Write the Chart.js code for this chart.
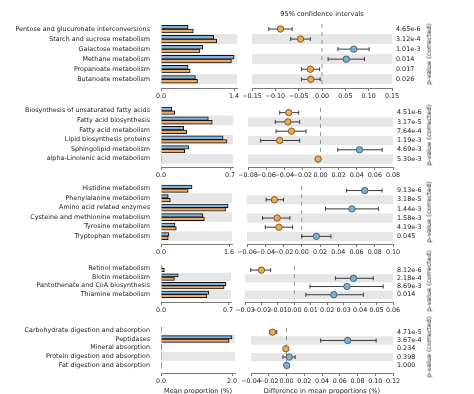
<!DOCTYPE html>
<html>
<head>
<meta charset="utf-8">
<script src="https://cdn.jsdelivr.net/npm/chart.js@4.4.1/dist/chart.umd.min.js"></script>
<style>
  html, body { margin: 0; padding: 0; background: #fff; }
  #wrap { position: relative; width: 474px; height: 394px; overflow: hidden; }
  #wrap canvas { position: absolute; }
  .pv { position: absolute; font: 6.4px "DejaVu Sans", sans-serif; color: #222; white-space: nowrap;
        transform: translate(-50%, -50%) rotate(-90deg); }
</style>
</head>
<body>
<div id="wrap"></div>
<script>
// ---- data ----
const p1Names = ["Pentose and glucuronate interconversions", "Starch and sucrose metabolism", "Galactose metabolism", "Methane metabolism", "Propanoate metabolism", "Butanoate metabolism"];
const p1Blue = [0.52, 1.01, 0.80, 1.40, 0.52, 0.66];
const p1Orange = [0.62, 1.07, 0.74, 1.35, 0.56, 0.70];
const p1Diff = [-0.089, -0.046, 0.068, 0.052, -0.025, -0.024];
const p1Lo = [-0.114, -0.067, 0.034, 0.013, -0.044, -0.044];
const p1Hi = [-0.064, -0.025, 0.101, 0.091, -0.005, -0.004];
const p1P = ["4.65e-6", "3.12e-4", "1.01e-3", "0.014", "0.017", "0.026"];
const p1BarTick = 1.4;
const p1CiTicks = [-0.15, -0.10, -0.05, 0, 0.05, 0.10, 0.15];

const p2Names = ["Biosynthesis of unsaturated fatty acids", "Fatty acid biosynthesis", "Fatty acid metabolism", "Lipid biosynthesis proteins", "Sphingolipid metabolism", "alpha-Linolenic acid metabolism"];
const p2Blue = [0.11, 0.48, 0.23, 0.63, 0.28, 0.004];
const p2Orange = [0.14, 0.52, 0.26, 0.67, 0.24, 0.005];
const p2Diff = [-0.035, -0.036, -0.032, -0.045, 0.043, -0.0026];
const p2Lo = [-0.045, -0.050, -0.049, -0.066, 0.019, -0.0045];
const p2Hi = [-0.024, -0.023, -0.016, -0.023, 0.068, -0.0007];
const p2P = ["4.51e-6", "3.17e-5", "7.64e-4", "1.19e-3", "4.69e-3", "5.30e-3"];
const p2BarTick = 0.7;
const p2CiTicks = [-0.08, -0.06, -0.04, -0.02, 0, 0.02, 0.04, 0.06, 0.08];

const p3Names = ["Histidine metabolism", "Phenylalanine metabolism", "Amino acid related enzymes", "Cysteine and methionine metabolism", "Tyrosine metabolism", "Tryptophan metabolism"];
const p3Blue = [0.73, 0.17, 1.58, 0.98, 0.33, 0.185];
const p3Orange = [0.64, 0.22, 1.53, 1.02, 0.36, 0.17];
const p3Diff = [0.069, -0.030, 0.055, -0.027, -0.025, 0.016];
const p3Lo = [0.049, -0.039, 0.026, -0.043, -0.040, 0.000];
const p3Hi = [0.088, -0.020, 0.084, -0.013, -0.010, 0.032];
const p3P = ["9.13e-6", "3.18e-5", "1.44e-3", "1.58e-3", "4.19e-3", "0.045"];
const p3BarTick = 1.6;
const p3CiTicks = [-0.06, -0.04, -0.02, 0, 0.02, 0.04, 0.06, 0.08, 0.10];

const p4Names = ["Retinol metabolism", "Biotin metabolism", "Pantothenate and CoA biosynthesis", "Thiamine metabolism"];
const p4Blue = [0.012, 0.18, 0.68, 0.50];
const p4Orange = [0.035, 0.14, 0.66, 0.48];
const p4Diff = [-0.020, 0.036, 0.032, 0.024];
const p4Lo = [-0.0265, 0.025, 0.0095, 0.007];
const p4Hi = [-0.0144, 0.048, 0.054, 0.042];
const p4P = ["8.12e-6", "2.18e-4", "8.69e-3", "0.014"];
const p4BarTick = 0.7;
const p4CiTicks = [-0.03, -0.02, -0.01, 0, 0.01, 0.02, 0.03, 0.04, 0.05, 0.06];

const p5Names = ["Carbohydrate digestion and absorption", "Peptidases", "Mineral absorption", "Protein digestion and absorption", "Fat digestion and absorption"];
const p5Blue = [0.008, 2.0, 0.004, 0.016, 0.005];
const p5Orange = [0.012, 1.92, 0.005, 0.013, 0.005];
const p5Diff = [-0.0157, 0.069, -0.0007, 0.003, 0.0002];
const p5Lo = [-0.019, 0.0385, -0.0015, -0.004, -0.0005];
const p5Hi = [-0.011, 0.101, 0.0002, 0.0097, 0.0009];
const p5P = ["4.71e-5", "3.67e-4", "0.234", "0.398", "1.000"];
const p5BarTick = 2.0;
const p5CiTicks = [-0.04, -0.02, 0, 0.02, 0.04, 0.06, 0.08, 0.10, 0.12];

// ---- look ----
const FONT = '"DejaVu Sans", sans-serif';
const FS = 6.4;
const BLUE = "#82b3dd";
const ORANGE = "#eea862";
const BLUE_DOT = "#7eaed0";
const ORANGE_DOT = "#e9aa55";
const BAND = "#e6e6e6";
const INK = "#222";

// where each panel sits (rows top, row step, spine y, bar area right, ci area left/right)
const panes = [
  { top: 24.3, step: 10, spine: 88, barRight: 237, ciL: 252, ciR: 392 },
  { top: 106.2, step: 9.65, spine: 167.5, barRight: 233, ciL: 248, ciR: 393 },
  { top: 184, step: 9.47, spine: 244, barRight: 232, ciL: 247, ciR: 393 },
  { top: 264, step: 8.67, spine: 302, barRight: 231, ciL: 245, ciR: 393 },
  { top: 325.6, step: 8.75, spine: 373, barRight: 235, ciL: 251, ciR: 393 },
];

const wrap = document.getElementById("wrap");
Chart.defaults.font.family = FONT;
Chart.defaults.font.size = FS;
Chart.defaults.color = INK;

function addCanvas(left, top, w, h) {
  const c = document.createElement("canvas");
  c.width = Math.round(w);
  c.height = Math.round(h);
  c.style.left = left + "px";
  c.style.top = top + "px";
  c.style.width = Math.round(w) + "px";
  c.style.height = Math.round(h) + "px";
  wrap.appendChild(c);
  return c;
}

function fmt(v, d) {
  const s = Math.abs(v).toFixed(d);
  return v < -1e-9 ? "\u2212" + s : s;
}

function xAxis(min, max, ticks, dec, height, title) {
  return {
    type: "linear",
    min: min,
    max: max,
    bounds: "data",
    offset: false,
    afterBuildTicks: (s) => { s.ticks = ticks.map((v) => ({ value: v })); },
    afterFit: (s) => { s.height = height; },
    ticks: { autoSkip: false, maxRotation: 0, minRotation: 0, padding: 1.5, color: INK, callback: (v) => fmt(v, dec) },
    grid: { offset: false, drawOnChartArea: false, drawTicks: true, tickLength: 3, color: "#555", lineWidth: 0.8 },
    border: { display: true, color: "#555", width: 0.8 },
    title: title ? { display: true, text: title, color: INK, font: { size: 6.6 }, padding: { top: 0, bottom: 0 } } : { display: false },
  };
}

// gray bands, zero line, error bars, p-values
function stamp(n, ci) {
  return {
    id: "stamp",
    beforeDatasetsDraw(chart) {
      const { ctx, chartArea: a } = chart;
      const y = chart.scales.y, x = chart.scales.x;
      ctx.save();
      ctx.fillStyle = BAND;
      for (let i = 1; i < n; i += 2) {
        const t = y.getPixelForValue(i - 0.5), b = y.getPixelForValue(i + 0.5);
        ctx.fillRect(a.left, t, a.right - a.left, b - t);
      }
      if (ci) {
        const x0 = x.getPixelForValue(0);
        ctx.strokeStyle = "#8a8a8a";
        ctx.lineWidth = 0.9;
        ctx.setLineDash([4, 4]);
        ctx.beginPath();
        ctx.moveTo(x0, y.getPixelForValue(-0.5));
        ctx.lineTo(x0, y.getPixelForValue(n - 0.5));
        ctx.stroke();
        ctx.setLineDash([]);
        ctx.strokeStyle = "#3a3a3a";
        ctx.lineWidth = 1;
        for (let i = 0; i < n; i++) {
          const py = y.getPixelForValue(i);
          const l = x.getPixelForValue(ci.lo[i]), r = x.getPixelForValue(ci.hi[i]);
          ctx.beginPath();
          ctx.moveTo(l, py); ctx.lineTo(r, py);
          ctx.moveTo(l, py - 2); ctx.lineTo(l, py + 2);
          ctx.moveTo(r, py - 2); ctx.lineTo(r, py + 2);
          ctx.stroke();
        }
      }
      ctx.restore();
    },
    afterDraw(chart) {
      if (!ci) return;
      const { ctx, chartArea: a } = chart;
      const y = chart.scales.y;
      ctx.save();
      ctx.fillStyle = INK;
      ctx.font = FS + "px " + FONT;
      ctx.textBaseline = "middle";
      ctx.textAlign = "left";
      ci.p.forEach((t, i) => ctx.fillText(t, a.right + 4, y.getPixelForValue(i)));
      if (ci.title) {
        ctx.textAlign = "center";
        ctx.font = "6.6px " + FONT;
        ctx.fillText(ci.title, (a.left + a.right) / 2, a.top - 10);
      }
      ctx.restore();
    },
  };
}

function barPanel(k, names, blue, orange, tick, last) {
  const P = panes[k];
  const n = names.length;
  const padT = 3, padR = 10;
  const axisH = last ? 22 : 14;
  const w = P.barRight + padR;
  const h = padT + (P.spine - P.top) + axisH;
  const c = addCanvas(0, P.top - padT, w, h);
  const yMax = n - 0.5 + (P.spine - (P.top + n * P.step)) / P.step;
  const bt = P.step * 0.38;
  new Chart(c, {
    type: "bar",
    data: {
      datasets: [
        { data: blue.map((v, i) => ({ x: v, y: i })), backgroundColor: BLUE, borderColor: "#111", borderWidth: 1, barThickness: bt },
        { data: orange.map((v, i) => ({ x: v, y: i })), backgroundColor: ORANGE, borderColor: "#111", borderWidth: 1, barThickness: bt },
      ],
    },
    options: {
      indexAxis: "y",
      responsive: false,
      animation: false,
      devicePixelRatio: 1,
      layout: { padding: { top: padT, right: padR, left: 0, bottom: 0 } },
      plugins: { legend: { display: false }, tooltip: { enabled: false } },
      scales: {
        x: xAxis(0, tick * (P.barRight - 161) / (P.barRight - 164), [0, tick], 1, axisH, last ? "Mean proportion (%)" : null),
        y: {
          type: "linear",
          reverse: true,
          offset: false,
          min: -0.5,
          max: yMax,
          bounds: "data",
          afterBuildTicks: (s) => { s.ticks = names.map((_, i) => ({ value: i })); },
          afterFit: (s) => { s.width = 161; s.paddingTop = 0; s.paddingBottom = 0; },
          ticks: { autoSkip: false, padding: 3, color: INK, callback: (v) => names[v] },
          grid: { display: false, offset: false },
          border: { display: false },
        },
      },
    },
    plugins: [stamp(n, null)],
  });
}

function ciPanel(k, n, diff, lo, hi, p, ticks, last, title) {
  const P = panes[k];
  const padL = 14, padR = 34;
  const padT = title ? 18 : 3;
  const axisH = last ? 22 : 14;
  const w = padL + (P.ciR - P.ciL) + padR;
  const h = padT + (P.spine - P.top) + axisH;
  const c = addCanvas(P.ciL - padL, P.top - padT, w, h);
  const yMax = n - 0.5 + (P.spine - (P.top + n * P.step)) / P.step;
  new Chart(c, {
    type: "scatter",
    data: {
      datasets: [{
        data: diff.map((v, i) => ({ x: v, y: i })),
        pointRadius: 3.2,
        pointBorderWidth: 1,
        pointBackgroundColor: diff.map((v) => (v < 0 ? ORANGE_DOT : BLUE_DOT)),
        pointBorderColor: diff.map((v) => (v < 0 ? "#8a5a22" : "#45657c")),
      }],
    },
    options: {
      responsive: false,
      animation: false,
      devicePixelRatio: 1,
      layout: { padding: { top: padT, right: padR, left: padL, bottom: 0 } },
      plugins: { legend: { display: false }, tooltip: { enabled: false } },
      scales: {
        x: xAxis(ticks[0], ticks[ticks.length - 1], ticks, 2, axisH, last ? "Difference in mean proportions (%)" : null),
        y: { type: "linear", display: false, reverse: true, offset: false, min: -0.5, max: yMax, bounds: "data" },
      },
    },
    plugins: [stamp(n, { lo: lo, hi: hi, p: p, title: title })],
  });
  // rotated side label, centred on the rows
  const lab = document.createElement("div");
  lab.className = "pv";
  lab.textContent = "p-value (corrected)";
  lab.style.left = "429px";
  lab.style.top = (P.top + (n * P.step) / 2) + "px";
  wrap.appendChild(lab);
}

barPanel(0, p1Names, p1Blue, p1Orange, p1BarTick, false);
ciPanel(0, p1Names.length, p1Diff, p1Lo, p1Hi, p1P, p1CiTicks, false, "95% confidence intervals");
barPanel(1, p2Names, p2Blue, p2Orange, p2BarTick, false);
ciPanel(1, p2Names.length, p2Diff, p2Lo, p2Hi, p2P, p2CiTicks, false, null);
barPanel(2, p3Names, p3Blue, p3Orange, p3BarTick, false);
ciPanel(2, p3Names.length, p3Diff, p3Lo, p3Hi, p3P, p3CiTicks, false, null);
barPanel(3, p4Names, p4Blue, p4Orange, p4BarTick, false);
ciPanel(3, p4Names.length, p4Diff, p4Lo, p4Hi, p4P, p4CiTicks, false, null);
barPanel(4, p5Names, p5Blue, p5Orange, p5BarTick, true);
ciPanel(4, p5Names.length, p5Diff, p5Lo, p5Hi, p5P, p5CiTicks, true, null);
</script>
</body>
</html>
